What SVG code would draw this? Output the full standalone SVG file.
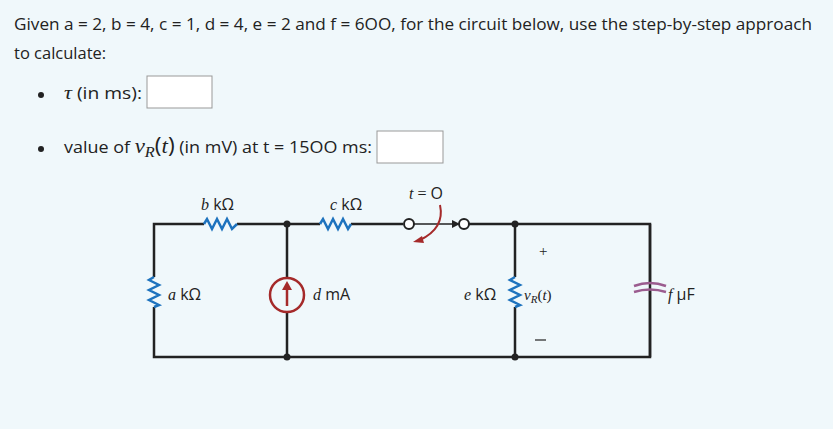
<svg xmlns="http://www.w3.org/2000/svg" width="833" height="429" viewBox="0 0 833 429">
<style>
.t{font-family:"Open Sans","Liberation Sans",sans-serif;font-size:16.5px;fill:#222}
.m{font-family:"Liberation Serif",serif;font-style:italic}
.c{font-family:"Open Sans","Liberation Sans",sans-serif;font-size:16px;fill:#222}
.w{stroke:#222;stroke-width:2.5;fill:none}
.r{stroke:#1e73be;stroke-width:2.5;fill:none;stroke-linejoin:miter}
.box{fill:#fff;stroke:#999;stroke-width:1}
</style>
<rect width="833" height="429" fill="#f0f8fb"/>
<g id="question">
<text class="t" x="14" y="30" textLength="798" lengthAdjust="spacingAndGlyphs">Given a = 2, b = 4, c = 1, d = 4, e = 2 and f = 6OO, for the circuit below, use the step-by-step approach</text>
<text class="t" x="14" y="59">to calculate:</text>
<circle cx="41" cy="95" r="3" fill="#222"/>
<text class="t" x="64" y="99" font-size="17.5" textLength="78" lengthAdjust="spacingAndGlyphs"><tspan class="m" font-size="19">τ</tspan> (in ms):</text>
<rect class="box" x="147" y="76" width="65" height="32"/>
<circle cx="41" cy="149" r="3" fill="#222"/>
<text class="t" x="64" y="153" font-size="17.5" textLength="308" lengthAdjust="spacingAndGlyphs">value of <tspan class="m" font-size="21">v</tspan><tspan class="m" font-size="15" dy="4">R</tspan><tspan dy="-4" font-size="21">(</tspan><tspan class="m" font-size="21">t</tspan><tspan font-size="21">)</tspan> (in mV) at t = 15OO ms:</text>
<rect class="box" x="377" y="131" width="66" height="32"/>
</g>
<g id="connectors">
<path class="w" d="M154 277V224H204M237 224H320M351 224H403M469 224H650V357H154V307"/>
<path class="w" d="M287 224V278M287 312V357M515 224V277M515 307V357M650 224V283M650 290V357"/>
<path d="M414 224H457" stroke="#222" stroke-width="1.5"/>
<path d="M452 220L460 224L452 228Z" fill="#222"/>
</g>
<g id="nodes" fill="#222"><circle cx="287" cy="224" r="3.5"/><circle cx="287" cy="357" r="3.5"/><circle cx="515" cy="224" r="3.5"/><circle cx="515" cy="357" r="3.5"/></g>
<g id="Rb"><path class="r" d="M204 224L207 219L212 229L217 219L222 229L227 219L232 229L237 224"/><text class="c" x="201" y="210"><tspan class="m">b</tspan> kΩ</text></g>
<g id="Rc"><path class="r" d="M320 224L323 219L328 229L333 219L338 229L343 219L348 229L351 224"/><text class="c" x="330" y="210"><tspan class="m">c</tspan> kΩ</text></g>
<g id="Ra"><path class="r" d="M154 277L149 280L159 285L149 290L159 295L149 300L159 305L154 307"/><text class="c" x="168" y="300"><tspan class="m">a</tspan> kΩ</text></g>
<g id="Re"><path class="r" d="M515 277L510 280L520 285L510 290L520 295L510 300L520 305L515 307"/><text class="c" x="464" y="300"><tspan class="m">e</tspan> kΩ</text></g>
<g id="Is"><circle cx="287" cy="295" r="17" fill="none" stroke="#a52a2a" stroke-width="2.5"/><path d="M287 306V287" stroke="#a52a2a" stroke-width="2.5"/><path d="M282 290L287 281L292 290Z" fill="#a52a2a"/><text class="c" x="313" y="300"><tspan class="m">d</tspan> mA</text></g>
<g id="switch"><circle cx="409" cy="224" r="5" fill="#fff" stroke="#222" stroke-width="2"/><circle cx="464" cy="224" r="5" fill="#fff" stroke="#222" stroke-width="2"/>
<path d="M440 205Q445 228 420 240" fill="none" stroke="#a52a2a" stroke-width="2"/><path d="M413 242L422 236L424 243Z" fill="#a52a2a"/>
<text x="409" y="199" font-family="Liberation Serif,serif" font-size="16" fill="#222"><tspan font-style="italic">t</tspan> = <tspan font-family="Open Sans,sans-serif">O</tspan></text></g>
<g id="vR"><text x="539" y="256" font-family="Liberation Serif,serif" font-size="15" fill="#222">+</text><text x="524" y="300" font-family="Liberation Serif,serif" font-size="15" fill="#222"><tspan font-style="italic">v</tspan><tspan font-style="italic" font-size="11" dy="3">R</tspan><tspan dy="-3">(</tspan><tspan font-style="italic">t</tspan>)</text><path d="M535 340H546" stroke="#222" stroke-width="1.2"/></g>
<g id="C"><path d="M634 286Q650 280 666 286M634 292Q650 287 666 292" fill="none" stroke="#9b5c8f" stroke-width="2.5"/><text class="c" x="668" y="300"><tspan class="m">f</tspan> µF</text></g>
</svg>
